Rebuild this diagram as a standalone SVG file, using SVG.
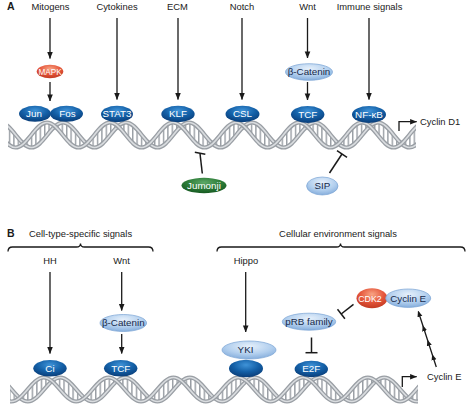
<svg xmlns="http://www.w3.org/2000/svg" xmlns:xlink="http://www.w3.org/1999/xlink" width="474" height="419" viewBox="0 0 474 419">
<style>
.lbl{font-family:"Liberation Sans",Arial,sans-serif;font-size:9.4px;fill:#1a1a1a;text-anchor:middle}
.pl{font-family:"Liberation Sans",Arial,sans-serif;font-size:10.5px;font-weight:bold;fill:#1a1a1a}
.wt{font-family:"Liberation Sans",Arial,sans-serif;font-size:9.8px;fill:#ffffff;text-anchor:middle}
.dk{font-family:"Liberation Sans",Arial,sans-serif;font-size:9.8px;fill:#16294a;text-anchor:middle}
.dark{fill:url(#gDark)}
.light{fill:url(#gLight);stroke:#7aa3d4;stroke-width:0.7}
.red{fill:url(#gRed)}
.green{fill:url(#gGreen)}
.arr{stroke:#1a1a1a;stroke-width:1.3;fill:none;marker-end:url(#ah)}
.inh{stroke:#1a1a1a;stroke-width:1.5;fill:none}
.brace{stroke:#1a1a1a;stroke-width:1.3;fill:none}
.sOut{fill:none;stroke:#999ea4;stroke-width:4.2}
.sIn{fill:none;stroke:#d9dcdf;stroke-width:1.7}
</style>
<defs>
<radialGradient id="gDark" cx="50%" cy="30%" r="70%">
<stop offset="0" stop-color="#3f93d8"/><stop offset="0.55" stop-color="#135fa6"/><stop offset="1" stop-color="#0a3d78"/>
</radialGradient>
<radialGradient id="gLight" cx="50%" cy="30%" r="70%">
<stop offset="0" stop-color="#e6f0fb"/><stop offset="0.6" stop-color="#b2cfee"/><stop offset="1" stop-color="#86aedc"/>
</radialGradient>
<radialGradient id="gRed" cx="50%" cy="30%" r="70%">
<stop offset="0" stop-color="#f8a585"/><stop offset="0.55" stop-color="#e5563b"/><stop offset="1" stop-color="#c23a22"/>
</radialGradient>
<radialGradient id="gGreen" cx="50%" cy="30%" r="70%">
<stop offset="0" stop-color="#5ca866"/><stop offset="0.55" stop-color="#2c7b37"/><stop offset="1" stop-color="#175a22"/>
</radialGradient>
<marker id="ah" viewBox="0 0 8 8" refX="7.5" refY="4" markerWidth="7" markerHeight="7" markerUnits="userSpaceOnUse" orient="auto">
<path d="M0,0.8 L8,4 L0,7.2 Z" fill="#1a1a1a"/>
</marker>
<marker id="ahs" viewBox="0 0 8 8" refX="7" refY="4" markerWidth="6" markerHeight="6" markerUnits="userSpaceOnUse" orient="auto">
<path d="M0,0.6 L8,4 L0,7.4 Z" fill="#1a1a1a"/>
</marker>
<pattern id="rungs" x="0" y="0" width="4.4" height="10" patternUnits="userSpaceOnUse">
<rect x="0" y="0" width="1.4" height="10" fill="#989da3"/>
</pattern>
<path id="stA" d="M -16 122.5 C -4.5 122.5 4 147.5 15.5 147.5 S 35.5 122.5 47 122.5 S 67 147.5 78.5 147.5 S 98.5 122.5 110 122.5 S 130 147.5 141.5 147.5 S 161.5 122.5 173 122.5 S 193 147.5 204.5 147.5 S 224.5 122.5 236 122.5 S 256 147.5 267.5 147.5 S 287.5 122.5 299 122.5 S 319 147.5 330.5 147.5 S 350.5 122.5 362 122.5 S 382 147.5 393.5 147.5 S 413.5 122.5 425 122.5"/>
<path id="stB" d="M 0 122.5 C 11.5 122.5 20 147.5 31.5 147.5 S 51.5 122.5 63 122.5 S 83 147.5 94.5 147.5 S 114.5 122.5 126 122.5 S 146 147.5 157.5 147.5 S 177.5 122.5 189 122.5 S 209 147.5 220.5 147.5 S 240.5 122.5 252 122.5 S 272 147.5 283.5 147.5 S 303.5 122.5 315 122.5 S 335 147.5 346.5 147.5 S 366.5 122.5 378 122.5 S 398 147.5 409.5 147.5 S 429.5 122.5 441 122.5"/>
<clipPath id="gap">
<path clip-rule="evenodd" d="M -16 122.5 C -4.5 122.5 4 147.5 15.5 147.5 S 35.5 122.5 47 122.5 S 67 147.5 78.5 147.5 S 98.5 122.5 110 122.5 S 130 147.5 141.5 147.5 S 161.5 122.5 173 122.5 S 193 147.5 204.5 147.5 S 224.5 122.5 236 122.5 S 256 147.5 267.5 147.5 S 287.5 122.5 299 122.5 S 319 147.5 330.5 147.5 S 350.5 122.5 362 122.5 S 382 147.5 393.5 147.5 S 413.5 122.5 425 122.5 L 441 200 L -16 200 Z M 0 122.5 C 11.5 122.5 20 147.5 31.5 147.5 S 51.5 122.5 63 122.5 S 83 147.5 94.5 147.5 S 114.5 122.5 126 122.5 S 146 147.5 157.5 147.5 S 177.5 122.5 189 122.5 S 209 147.5 220.5 147.5 S 240.5 122.5 252 122.5 S 272 147.5 283.5 147.5 S 303.5 122.5 315 122.5 S 335 147.5 346.5 147.5 S 366.5 122.5 378 122.5 S 398 147.5 409.5 147.5 S 429.5 122.5 441 122.5 L 441 200 L 0 200 L -16 200 Z"/>
</clipPath>
<g id="helix">
<rect x="-20" y="115" width="470" height="40" fill="url(#rungs)" clip-path="url(#gap)"/>
<use href="#stB" class="sOut"/>
<use href="#stB" class="sIn"/>
<use href="#stA" class="sOut"/>
<use href="#stA" class="sIn"/>
</g>
<clipPath id="clipHA"><rect x="8" y="100" width="408" height="60"/></clipPath>
<clipPath id="clipHB"><rect x="10" y="360" width="408" height="55"/></clipPath>
</defs>

<rect x="0" y="0" width="474" height="419" fill="#ffffff"/>

<!-- DNA helices -->
<g id="dnaA" clip-path="url(#clipHA)"><use href="#helix"/></g>
<g id="dnaB" clip-path="url(#clipHB)"><use href="#helix" transform="translate(-4.57,259.9) scale(1.0286,0.96)"/></g>

<!-- Panel labels and headings -->
<text class="pl" x="7" y="10">A</text>
<text class="pl" x="7" y="237">B</text>
<g id="headings">
<text class="lbl" x="50.5" y="9.5">Mitogens</text>
<text class="lbl" x="117" y="9.5">Cytokines</text>
<text class="lbl" x="177.5" y="9.5">ECM</text>
<text class="lbl" x="242" y="9.5">Notch</text>
<text class="lbl" x="307.5" y="9.5">Wnt</text>
<text class="lbl" x="369.5" y="9.5">Immune signals</text>
<text class="lbl" x="80.5" y="236.5">Cell-type-specific signals</text>
<text class="lbl" x="338" y="236.5">Cellular environment signals</text>
<text class="lbl" x="50" y="263.5">HH</text>
<text class="lbl" x="121.5" y="263.5">Wnt</text>
<text class="lbl" x="246" y="263.5">Hippo</text>
</g>

<!-- Connectors -->
<g id="connectors">
<line class="arr" x1="50" y1="18" x2="50" y2="58.5"/>
<line class="arr" x1="50" y1="82" x2="50" y2="101"/>
<line class="arr" x1="117" y1="18" x2="117" y2="99.5"/>
<line class="arr" x1="178" y1="18" x2="178" y2="99.5"/>
<line class="arr" x1="242" y1="18" x2="242" y2="99.5"/>
<line class="arr" x1="307.5" y1="18" x2="307.5" y2="58"/>
<line class="arr" x1="307.5" y1="82" x2="307.5" y2="100"/>
<line class="arr" x1="369" y1="18" x2="369" y2="99.5"/>
<path class="arr" d="M 399 131 L 399 121.7 L 416.7 121.7"/>
<line class="inh" x1="202.3" y1="173.5" x2="200" y2="153.5"/>
<line class="inh" x1="194.8" y1="152.3" x2="205.3" y2="154.3"/>
<line class="inh" x1="329.5" y1="173" x2="342" y2="154"/>
<line class="inh" x1="337" y1="150.6" x2="347" y2="157.4"/>
<path class="brace" d="M 8 251.5 Q 8 247 12.5 247 L 76.5 247 Q 80.5 247 80.5 243.5 Q 80.5 247 84.5 247 L 148.5 247 Q 153 247 153 251.5"/>
<path class="brace" d="M 217 251.5 Q 217 247 221.5 247 L 336.5 247 Q 340.5 247 340.5 243.5 Q 340.5 247 344.5 247 L 460.5 247 Q 465 247 465 251.5"/>
<line class="arr" x1="50" y1="272" x2="50" y2="353.5"/>
<line class="arr" x1="121.7" y1="272" x2="121.7" y2="310.5"/>
<line class="arr" x1="121.7" y1="334" x2="121.7" y2="353.5"/>
<line class="arr" x1="245.7" y1="272" x2="245.7" y2="332"/>
<line class="inh" x1="311.5" y1="337.5" x2="311.5" y2="352.7"/>
<line class="inh" x1="305.5" y1="352.7" x2="317.5" y2="352.7"/>
<line class="inh" x1="353.5" y1="304.3" x2="341.2" y2="314"/>
<line class="inh" x1="337.5" y1="309.3" x2="344.9" y2="318.7"/>
<path class="arr" d="M 402.3 387 L 402.3 376.7 L 416.7 376.7"/>
<polyline points="436.3,367 432.4,355 427.7,340.5 423,326 418.3,311.5" fill="none" stroke="#1a1a1a" stroke-width="1.3" marker-mid="url(#ahs)" marker-end="url(#ahs)"/>
</g>

<!-- Panel A nodes -->
<g id="mapk"><ellipse class="red" cx="50" cy="71.5" rx="13.3" ry="6.7"/><text class="wt" x="50" y="74.6" style="font-size:8.2px">MAPK</text></g>
<g id="jun"><ellipse class="dark" cx="35" cy="113.8" rx="16" ry="8"/><text class="wt" x="34" y="117.2">Jun</text></g>
<g id="fos"><ellipse class="dark" cx="66.5" cy="113.8" rx="16.5" ry="8"/><text class="wt" x="67.5" y="117.2">Fos</text></g>
<g id="stat3"><ellipse class="dark" cx="117" cy="114" rx="16" ry="8.3"/><text class="wt" x="117" y="117.4">STAT3</text></g>
<g id="klf"><ellipse class="dark" cx="178" cy="114" rx="16.7" ry="8.3"/><text class="wt" x="178" y="117.4">KLF</text></g>
<g id="csl"><ellipse class="dark" cx="242.5" cy="114" rx="17" ry="8.3"/><text class="wt" x="242.5" y="117.4">CSL</text></g>
<g id="catA"><ellipse class="light" cx="309" cy="72" rx="23.5" ry="8.3"/><text class="dk" x="309" y="75.4">β-Catenin</text></g>
<g id="tcfA"><ellipse class="dark" cx="307.7" cy="114.5" rx="16.7" ry="8.5"/><text class="wt" x="307.7" y="117.9">TCF</text></g>
<g id="nfkb"><ellipse class="dark" cx="369" cy="114.5" rx="17" ry="8.5"/><text class="wt" x="369" y="117.9">NF-κB</text></g>
<g id="cyclinD1"><text class="lbl" x="420" y="125" style="text-anchor:start">Cyclin D1</text></g>
<g id="jumonji"><ellipse class="green" cx="204" cy="185.5" rx="22.5" ry="7.7"/><text class="wt" x="204" y="188.8">Jumonji</text></g>
<g id="sip"><ellipse class="light" cx="322.3" cy="186" rx="15.7" ry="9"/><text class="dk" x="322.3" y="189.4">SIP</text></g>

<!-- Panel B nodes -->
<g id="ci"><ellipse class="dark" cx="50" cy="368.3" rx="16.7" ry="8.3"/><text class="wt" x="50" y="371.7">Ci</text></g>
<g id="catB"><ellipse class="light" cx="123.3" cy="323" rx="23.3" ry="8.5"/><text class="dk" x="123.3" y="326.4">β-Catenin</text></g>
<g id="tcfB"><ellipse class="dark" cx="120.7" cy="368.3" rx="16.7" ry="8.3"/><text class="wt" x="120.7" y="371.7">TCF</text></g>
<g id="yki"><ellipse class="light" cx="249" cy="350" rx="27" ry="9"/><text class="dk" x="245.5" y="353.4">YKI</text></g>
<g id="tead"><ellipse class="dark" cx="246" cy="368.5" rx="17" ry="8.8"/></g>
<g id="prb"><ellipse class="light" cx="309" cy="321.7" rx="26.7" ry="8.5"/><text class="dk" x="309" y="325.1">pRB family</text></g>
<g id="e2f"><ellipse class="dark" cx="311.3" cy="369" rx="16.7" ry="8.2"/><text class="wt" x="311.3" y="372.4">E2F</text></g>
<g id="cdk2"><ellipse class="red" cx="372" cy="298.3" rx="15.5" ry="10"/><text class="wt" x="370" y="301.5" style="font-size:8.8px">CDK2</text></g>
<g id="cyclinEprot"><ellipse class="light" cx="408.2" cy="298.2" rx="22.5" ry="9.2"/><text class="dk" x="408.2" y="301.6">Cyclin E</text></g>
<g id="cyclinEgene"><text class="lbl" x="427" y="379.5" style="text-anchor:start">Cyclin E</text></g>
</svg>
